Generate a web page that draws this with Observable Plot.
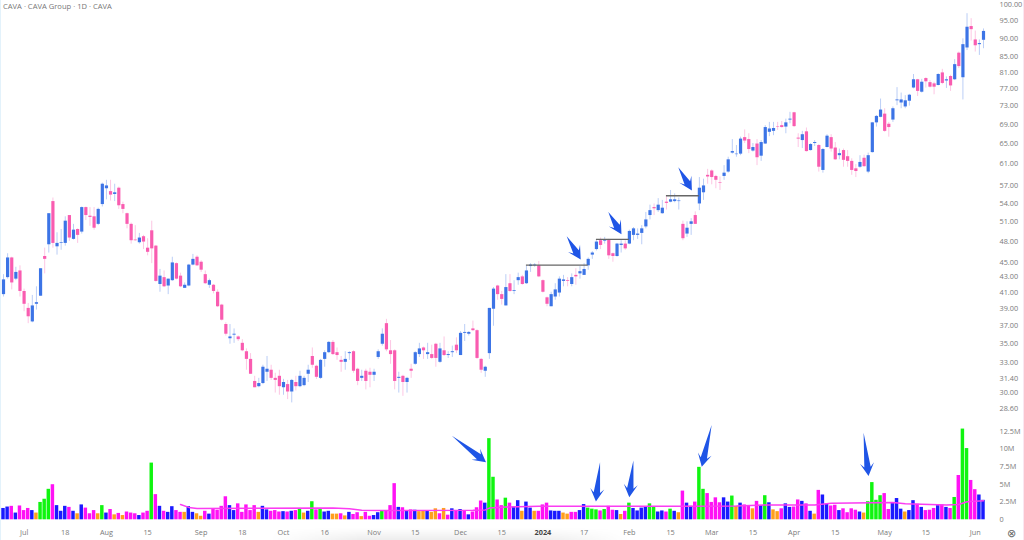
<!DOCTYPE html>
<html><head><meta charset="utf-8">
<script src="https://cdn.jsdelivr.net/npm/d3@7"></script>
<script src="https://cdn.jsdelivr.net/npm/@observablehq/plot@0.6"></script>
<style>
html,body{margin:0;padding:0;background:#fff;overflow:hidden}
#wrap{position:relative;width:1024px;height:540px;font-family:"Open Sans",sans-serif;overflow:hidden}
#title{position:absolute;left:3px;top:0.5px;font-size:7.6px;line-height:11px;color:#777;white-space:nowrap}
.edge{position:absolute;top:0;bottom:0;width:1px}
#shade{position:absolute;left:270px;width:360px;top:528px;height:12px;background:linear-gradient(to bottom,rgba(0,0,0,0),rgba(0,0,0,.07));-webkit-mask-image:linear-gradient(to right,transparent,#000 25%,#000 75%,transparent)}
</style></head><body>
<div id="wrap"><div id="title">CAVA · CAVA Group · 1D · CAVA</div><div id="shade"></div>
<div class="edge" style="left:0;background:#e3f2fb"></div><div class="edge" style="right:0;background:#fbe6f0"></div></div>
<script>
const opens=[40.7,42.9,45.6,42.7,43.8,41.1,39.0,37.4,39.5,40.5,
45.8,47.5,54.3,47.2,47.7,47.7,52.0,48.3,49.8,49.4,
53.3,51.9,51.8,50.6,53.8,56.5,56.0,55.5,56.6,53.8,
52.3,50.6,48.2,47.8,48.7,47.0,49.6,47.3,42.0,42.9,
41.8,42.5,44.8,43.1,41.5,41.8,44.6,45.7,45.0,43.3,
41.9,41.9,41.0,39.4,37.1,35.5,35.9,35.7,35.0,34.1,
33.3,31.1,30.6,30.9,32.0,32.2,31.4,31.6,30.5,30.8,
30.1,31.0,30.6,30.7,31.8,33.6,32.6,31.4,33.3,34.0,
35.1,34.0,33.2,33.0,33.9,34.1,32.3,31.4,32.1,32.0,
31.7,33.5,34.9,37.2,34.2,34.2,31.4,31.6,31.0,32.3,
32.8,33.8,34.5,33.8,33.8,34.9,33.0,34.2,33.7,34.0,
34.8,33.7,36.1,36.0,36.6,36.4,33.3,32.1,33.9,38.9,
41.8,40.7,39.3,42.1,41.1,42.5,43.0,42.1,44.4,44.5,
44.5,42.5,40.3,39.2,40.4,40.9,42.4,42.5,42.0,43.2,
43.4,43.2,44.5,46.0,46.8,48.1,48.0,48.2,46.2,45.8,
47.4,47.6,47.6,48.9,48.9,49.2,50.2,52.0,53.3,52.8,
52.3,54.2,54.2,54.3,54.3,50.6,49.1,50.6,52.0,53.9,
55.8,58.9,59.7,58.7,57.6,58.7,59.5,63.1,62.8,62.9,
66.2,65.8,63.5,64.9,62.5,64.9,67.3,67.5,68.5,68.7,
68.4,69.9,71.5,66.1,65.6,67.4,63.6,65.0,64.6,59.8,
64.2,66.2,64.1,62.6,63.6,62.4,61.5,60.1,60.4,62.1,
59.5,63.2,69.3,70.5,71.2,69.0,69.9,74.2,73.7,72.8,
74.1,77.2,79.2,76.2,79.5,78.5,78.2,77.8,80.9,78.9,
80.0,79.2,86.0,79.7,87.4,93.4,89.6,88.3,89.5];
const closes=[42.6,45.6,42.2,43.6,41.1,39.5,38.0,39.3,39.7,44.1,
45.4,52.3,47.7,47.7,47.8,51.1,48.5,49.7,48.9,53.3,
52.0,51.7,50.0,53.0,57.3,57.0,55.4,55.8,53.6,53.0,
50.6,48.1,48.1,48.5,47.9,46.4,46.9,42.4,43.1,41.7,
42.7,44.9,42.7,41.7,41.9,44.6,45.4,44.5,43.9,42.1,
42.5,41.1,39.2,37.6,36.0,35.7,36.0,35.4,34.2,33.3,
31.8,30.5,30.9,32.5,32.3,31.4,31.2,30.6,31.0,30.1,
31.2,30.6,31.6,31.4,32.2,32.7,31.5,33.2,34.0,35.1,
33.8,33.7,33.0,33.3,34.0,32.1,31.1,31.6,31.1,31.7,
32.0,34.1,36.0,34.3,33.8,31.1,31.5,31.0,31.4,32.1,
34.0,34.4,34.2,34.0,33.4,33.4,34.4,33.7,33.8,34.1,
34.2,36.1,36.2,36.2,36.4,33.4,32.2,32.5,39.0,41.4,
40.7,40.1,41.6,41.1,41.2,42.9,42.0,43.8,44.6,44.6,
43.0,41.0,39.5,40.7,41.3,42.7,42.6,42.4,42.9,43.0,
43.7,44.0,45.4,46.3,47.9,47.4,48.1,45.9,45.8,47.6,
47.6,46.9,49.5,49.9,49.1,49.9,51.3,52.8,53.1,53.7,
53.2,54.0,54.6,54.6,54.4,48.4,50.0,51.0,50.6,56.6,
57.0,58.6,58.5,58.0,57.5,59.3,61.8,63.4,62.9,65.9,
65.5,63.8,64.2,62.2,65.2,68.3,68.0,68.1,68.4,68.3,
69.3,70.1,68.5,65.9,66.8,63.4,64.8,65.2,60.4,63.8,
66.5,63.9,61.8,63.0,61.7,61.5,59.8,59.6,61.3,60.5,
62.6,69.3,70.7,72.1,67.5,68.3,72.4,74.4,74.4,74.2,
75.5,79.2,76.4,78.6,78.7,77.4,77.4,80.5,78.3,79.2,
77.7,83.0,82.5,88.3,93.2,92.5,88.0,88.6,92.0];
const highs=[43.3,46.2,45.7,44.3,44.5,41.4,39.6,40.6,41.7,44.1,
47.0,52.3,54.9,49.3,49.8,51.8,52.0,50.6,49.9,53.4,
53.4,53.3,53.3,53.2,57.5,58.0,58.0,57.3,56.8,54.2,
52.4,50.8,50.4,49.2,48.9,48.4,51.1,47.4,44.0,43.8,
42.7,45.7,44.9,43.5,42.2,44.7,46.1,45.9,45.2,43.8,
42.7,42.0,41.3,39.5,37.3,37.1,36.6,35.8,35.4,34.4,
33.9,31.6,31.4,32.7,33.6,32.7,31.9,32.2,31.3,31.2,
31.3,31.6,32.1,31.6,32.7,34.5,32.7,33.3,34.2,35.2,
35.3,34.5,33.6,34.1,34.1,34.2,32.4,32.2,32.3,32.4,
32.3,34.3,36.6,37.7,35.3,34.3,32.0,31.7,31.5,32.8,
34.1,35.0,34.6,35.0,34.8,35.0,35.0,35.7,34.1,34.7,
35.6,36.3,37.1,36.3,37.5,36.5,33.4,32.6,39.0,41.6,
41.9,41.1,43.3,43.3,42.5,43.5,43.2,44.5,44.8,44.8,
45.1,42.6,40.4,41.0,42.1,43.0,43.2,42.9,43.4,44.1,
44.4,44.8,45.6,46.5,48.2,48.5,48.6,48.3,46.3,47.7,
48.1,48.1,49.7,50.1,49.9,50.4,52.5,53.7,53.9,54.8,
54.5,55.1,56.2,55.6,54.9,51.1,51.0,51.5,52.6,58.5,
58.2,60.0,59.9,58.9,58.6,60.7,62.3,65.8,64.6,66.3,
67.8,67.0,65.0,65.8,65.6,68.7,69.4,69.4,69.4,69.6,
70.1,71.6,71.6,67.0,67.5,68.2,65.0,65.6,64.8,64.0,
66.8,66.8,65.2,63.9,63.9,63.6,62.0,60.9,62.6,62.7,
63.1,69.4,70.9,74.6,72.4,69.4,72.8,77.3,76.0,75.4,
75.7,80.5,79.3,79.3,79.7,79.0,78.6,80.7,81.8,79.9,
80.3,84.3,86.3,89.9,97.2,95.7,92.1,89.6,92.7];
const lows=[40.4,42.7,41.3,42.5,40.4,38.6,37.2,37.3,38.8,40.5,
43.4,46.3,47.0,46.0,46.7,47.3,48.0,48.2,47.7,49.1,
51.2,50.3,49.7,50.4,53.4,54.6,54.4,54.3,53.0,52.3,
49.9,47.6,48.0,47.6,46.8,45.9,44.8,42.3,41.0,41.6,
40.7,42.4,42.6,41.6,41.5,41.7,44.5,44.4,43.6,42.0,
41.5,40.8,39.1,37.5,35.8,34.9,35.0,35.2,34.1,32.2,
31.8,30.5,30.5,30.8,31.1,31.2,30.0,29.8,29.8,29.4,
29.1,30.2,30.5,30.6,31.0,32.4,31.3,31.3,32.5,33.9,
33.7,33.2,32.0,32.2,33.2,31.9,30.7,31.1,30.3,30.5,
31.1,33.3,34.7,34.1,32.8,30.3,30.0,29.7,30.0,31.4,
32.7,33.5,33.3,33.3,33.3,32.5,32.9,33.6,33.4,33.5,
33.9,33.7,35.2,35.8,36.3,33.3,31.9,31.5,33.3,36.9,
40.0,39.4,39.3,41.0,40.7,41.9,41.9,42.0,43.6,44.3,
42.9,40.9,39.2,39.2,40.0,40.4,41.7,41.7,41.7,41.9,
42.7,43.2,43.9,45.4,46.6,46.8,47.6,45.4,45.0,45.7,
46.3,46.7,47.5,48.1,48.3,47.5,49.9,51.3,52.0,52.5,
52.2,52.9,54.1,54.1,52.9,48.1,48.6,48.9,50.6,52.8,
54.5,57.3,57.2,56.5,56.2,58.0,59.3,62.9,62.3,62.6,
65.0,63.0,63.3,60.7,61.5,64.8,66.4,66.6,67.7,68.2,
67.0,69.1,68.3,64.2,64.0,63.3,63.5,64.4,59.5,59.3,
64.1,63.3,61.7,61.8,60.4,60.4,58.9,58.5,60.2,60.4,
59.2,63.1,68.4,70.4,67.3,66.3,69.4,73.1,72.4,72.4,
73.0,77.0,75.2,76.0,77.2,77.2,75.6,77.7,78.0,77.1,
76.4,79.0,82.0,74.4,86.7,89.3,86.3,85.4,87.2];
const volumes=[1.6,1.8,1.9,.95,1.95,1.3,1.6,1.3,.95,2.45,
2.9,4.3,4.95,2.0,1.2,1.9,1.75,1.2,.85,2.1,
1.65,.85,1.3,.85,2.0,.95,1.45,.7,.9,.6,
1.1,.95,.85,.6,.95,1.2,8.0,3.55,1.9,1.2,
1.05,1.85,1.3,1.05,1.05,1.85,1.05,.85,.5,1.2,
.8,1.45,1.35,1.9,3.25,2.0,1.3,2.25,1.05,2.1,
1.3,2.0,1.05,1.9,1.4,1.2,1.3,1.1,1.15,1.1,
1.2,1.3,1.55,.95,1.2,2.55,1.4,1.45,1.1,1.2,
.8,.8,.85,.55,1.05,.75,1.0,.45,1.05,.5,
.6,1.0,1.2,1.3,2.0,5.1,1.75,1.7,1.2,1.4,
1.35,1.15,1.2,1.2,1.05,1.55,.85,1.6,.65,1.55,
1.3,1.45,1.3,.7,1.1,1.7,2.65,2.35,11.45,6.0,
2.8,2.0,3.05,2.35,1.8,2.7,1.2,2.5,1.65,1.2,
1.2,2.1,2.35,1.25,1.2,1.2,.95,.8,1.05,1.05,
1.3,2.15,1.65,1.5,1.4,1.25,1.45,1.9,1.35,1.3,
.75,1.2,2.35,1.6,1.25,1.65,1.75,2.25,1.8,1.1,
1.25,1.1,1.5,1.2,1.0,4.05,2.35,1.9,2.5,7.4,
4.3,3.7,2.45,3.1,2.4,3.1,2.5,3.35,1.9,2.35,
2.1,2.0,1.55,2.6,2.0,3.4,2.4,1.4,1.15,1.55,
2.25,1.75,1.8,2.8,2.6,2.25,1.2,.8,4.15,3.5,
2.2,1.95,2.05,1.3,1.55,1.0,1.55,1.35,1.1,.95,
2.55,5.25,2.75,3.4,3.7,1.45,2.3,3.0,1.5,1.1,
1.3,2.7,2.2,1.75,1.3,1.35,1.6,2.0,2.1,1.75,
1.6,3.15,6.25,12.8,10.05,5.55,4.25,3.5,2.75];
// b = up, m = down, g = surge on an up day, o = dry-up
const volumeKinds=("bbmbmmmbog"+"ggmbbbmbob"+"mmmogbmomo"+"mmmbmmgmbm"+"bbmmobboom"+"bmmmmbbmmm"+"mmobbmmmbm"+"bmgobgmgbb"+
"oomobmmomm"+"bbgmmmbmbm"+"booboomomb"+"mbmbmmmbgg"+"mmgmbbobbo"+"mmmbbboomm"+"bbgggmgmmb"+"omgbbbbggb"+"bmgbombbmg"+
"gmmmmbbgob"+"mmombgboom"+"bbmmbmbomb"+"bmmbmmmmbo"+"ggggmmbbbo"+"bbmbmmmbmb"+"mgmggmmbb").split("");
const avgVolumeIndex=[43,45,47,80,84,87,92,114,117,118,122,130,165,178,185,197,201,216,219,229,232,234,238];
const avgVolumeValue=[2.15,1.75,1.6,1.65,1.55,1.35,1.3,1.35,1.4,1.65,1.8,1.9,1.9,1.95,2.1,2.1,2.35,2.45,2.25,2.1,2.15,2.55,2.7];
const priceTicks=[100,95,90,85,81,77,73,69,65,61,57,54,51,48,45,43,41,39,37,35,33,31.4,30,28.6];
const volumeTicks=[0,2.5,5,7.5,10,12.5];
const timeTickIndex=[5,15,25,35,48,58,68,78,90,100,111,121,141,152,162,172,182,192,202,214,224,236];
const timeTickLabel=["Jul","18","Aug","15","Sep","18","Oct","16","Nov","15","Dec","15","17","Feb","15","Mar","15","Apr","15","May","15","Jun"];
const yearTickIndex=[131], yearTickLabel=["2024"];
const resistance=[{from:127,to:142,price:44.6},{from:144,to:152,price:48.3},{from:161,to:169,price:55.3}];
const priceArrows=[{x1:136.9,y1:48.7,x2:140.3,y2:45.3},{x1:147,y1:52.5,x2:150.2,y2:49},{x1:164,y1:60.3,x2:167.3,y2:56.1}];
const volumeArrows=[{x1:109,y1:11.8,x2:117.3,y2:8.04},{x1:145,y1:8.04,x2:144,y2:2.5},{x1:153.1,y1:8.3,x2:152.1,y2:3.1},{x1:172.1,y1:13.3,x2:169.7,y2:7.4},{x1:209,y1:12.2,x2:210.2,y2:6.1}];

const idx=d3.range(opens.length);
const up=i=>closes[i]>=opens[i];
const BLUE="#3c74e6",PINK="#f95cb0",ARROW="#1f55e6",INK="#7a7a7a";
const xScale={type:"linear",domain:[0,238],range:[3,983]};
const common={width:1024,marginLeft:0,marginRight:27,marginTop:0};
const arrows=list=>(index,scales)=>{
  const g=d3.create("svg:g").attr("fill",ARROW);
  for(const a of list){
    const x1=scales.x(a.x1),y1=scales.y(a.y1),x2=scales.x(a.x2),y2=scales.y(a.y2);
    const L=Math.hypot(x2-x1,y2-y1),ux=(x2-x1)/L,uy=(y2-y1)/L,vx=-uy,vy=ux;
    const p=(t,s)=>[x2-ux*t+vx*s,y2-uy*t+vy*s];
    const pts=[[x1,y1],p(9,3.2),p(13,7),[x2,y2],p(13,-7),p(9,-3.2)];
    g.append("polygon").attr("points",pts.map(d=>d.join(",")).join(" "));
  }
  return g.node();
};
const base=`position:absolute;left:0;background:transparent;overflow:visible;font-family:"Open Sans",sans-serif;`;

const priceChart=Plot.plot({...common,height:416,marginBottom:0,
  style:base+"top:0;",
  x:{...xScale,axis:null},
  y:{type:"log",domain:[28.6,100],range:[408,4]},
  marks:[
    Plot.axisY(priceTicks,{anchor:"right",tickSize:0,tickPadding:2,tickFormat:d=>d.toFixed(2),fontSize:7.3,color:INK,label:null}),
    Plot.ruleX(idx,{x:i=>i,y1:i=>lows[i],y2:i=>highs[i],stroke:i=>up(i)?BLUE:PINK,strokeOpacity:.35,strokeWidth:1}),
    Plot.ruleX(idx,{x:i=>i,y1:i=>opens[i],y2:i=>closes[i],stroke:i=>up(i)?BLUE:PINK,strokeWidth:3.2}),
    Plot.ruleY(resistance,{x1:"from",x2:"to",y:"price",stroke:"#666",strokeWidth:1.4}),
    arrows(priceArrows)
  ]});

const volumeChart=Plot.plot({...common,height:124,marginBottom:14,
  style:base+"top:416px;",
  x:{...xScale,axis:null},
  y:{type:"linear",domain:[0,12.5],range:[103.3,14.7]},
  color:{domain:["b","m","g","o"],range:["#1a1aff","#ff12f5","#10f510","#ff9f1c"]},
  marks:[
    Plot.axisY(volumeTicks,{anchor:"right",tickSize:0,tickPadding:2,tickFormat:d=>d===0?"0":d+"M",fontSize:7.3,color:INK,label:null}),
    Plot.axisX(timeTickIndex,{anchor:"bottom",tickSize:0,tickPadding:3,tickFormat:d=>timeTickLabel[timeTickIndex.indexOf(d)],fontSize:7.3,color:INK,label:null}),
    Plot.axisX(yearTickIndex,{anchor:"bottom",tickSize:0,tickPadding:3,tickFormat:d=>yearTickLabel[yearTickIndex.indexOf(d)],fontSize:7.3,fontWeight:700,color:"#444",label:null}),
    Plot.rectY(idx,{x1:i=>i-.42,x2:i=>i+.42,y1:0,y2:i=>volumes[i],fill:i=>volumeKinds[i]}),
    Plot.line(avgVolumeIndex,{x:i=>i,y:(i,k)=>avgVolumeValue[k],stroke:"#fb3cf2",strokeWidth:1.5}),
    arrows(volumeArrows),
    Plot.text(["⊗"],{frameAnchor:"bottom-right",dx:18,dy:10,fontSize:11,fill:"#666"})
  ]});

const wrap=document.getElementById("wrap");
wrap.append(priceChart,volumeChart);
</script></body></html>
